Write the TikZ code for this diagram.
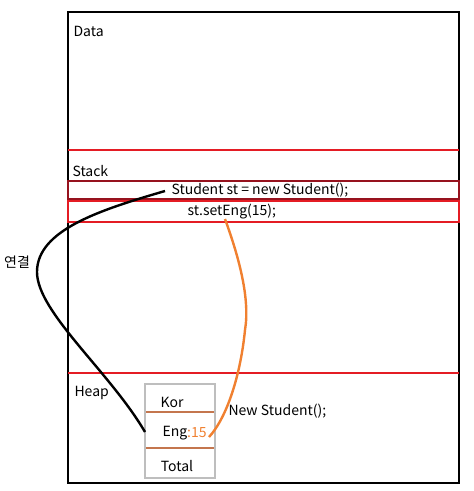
\documentclass[tikz,border=0pt]{standalone}
\usepackage{fontspec}
\setmainfont{Noto Sans CJK KR}
\usetikzlibrary{calc}

\definecolor{linered}{RGB}{228,28,36}
\definecolor{boxred}{RGB}{150,18,30}
\definecolor{linkorange}{RGB}{240,128,48}
\definecolor{fieldbrown}{RGB}{196,118,78}
\definecolor{objgray}{RGB}{190,190,190}

\begin{document}
\begin{tikzpicture}[x=1pt, y=-1pt, font=\fontsize{14}{16}\selectfont]

    % パラメータの定義
    \pgfmathsetmacro{\xl}{68}
    \pgfmathsetmacro{\xr}{459}

    \useasboundingbox (0,0) rectangle (474,491);

    % 領域の描画
    \draw [line width=2.5pt] (\xl,12) rectangle (\xr,483);
    \draw [line width=2.2pt, linered] (\xl,150) -- (\xr,150);
    \draw [line width=2.2pt, linered] (\xl,373) -- (\xr,373);
    \draw [line width=2.2pt, boxred] (\xl,181) rectangle (\xr,199);
    \draw [line width=2.2pt, linered] (\xl,201) rectangle (\xr,222);

    % ラベルの描画
    \node (data) [anchor=west] at (70,31) {Data};
    \node (stack) [anchor=west] at (69,171) {Stack};
    \node (heap) [anchor=west] at (71,393) {Heap};
    \node (newst) [anchor=west] at (168,190) {Student st = new Student();};
    \node (seteng) [anchor=west] at (184,212) {st.setEng(15);};
    \node (link) at (17,262) {연결};
    \node (newobj) [anchor=west] at (225,411) {New Student();};

    % オブジェクトの描画
    \draw [line width=2.5pt, objgray] (145,384) rectangle (215,478);
    \draw [line width=2pt, fieldbrown] (146,412) -- (214,412);
    \draw [line width=2pt, fieldbrown] (146,448) -- (214,448);
    \node (kor) at (172,402) {Kor};
    \node (eng) [anchor=west] at (159,433) {Eng\raisebox{-1.5pt}{\textcolor{linkorange}{:15}}};
    \node (total) at (177,466) {Total};

    % 点の定義
    \coordinate (P) at ($(newst.west)+(-3,1)$);
    \coordinate (Q) at (145,432);
    \coordinate (R) at (225,219);
    \coordinate (S) at (209,437);

    % 曲線の描画
    \draw [line width=2.4pt] (P) .. controls (100,210) and (37,230) .. (37,272)
        .. controls (37,312) and (110,372) .. (Q);
    \draw [line width=2.4pt, linkorange] (R) .. controls (240,260) and (250,300) .. (245,330)
        .. controls (240,380) and (225,420) .. (S);

\end{tikzpicture}
\end{document}
